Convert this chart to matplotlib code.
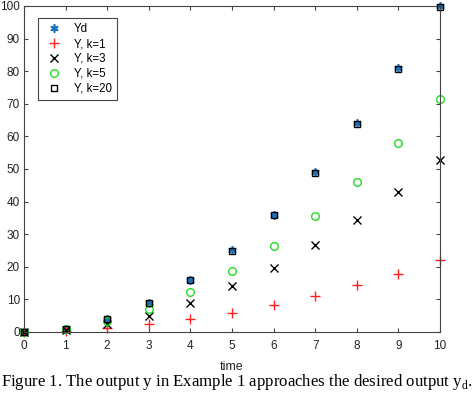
import matplotlib
matplotlib.use("Agg")
import matplotlib.pyplot as plt
import numpy as np

t = [0, 1, 2, 3, 4, 5, 6, 7, 8, 9, 10]
yd = [0, 1, 4, 9, 16, 25, 36, 49, 64, 81, 100]
y_k1 = [0, 0.3, 1.3, 2.3, 3.9, 5.8, 8.2, 11.1, 14.4, 17.8, 22.0]
y_k3 = [0, 0.6, 2.4, 5.0, 9.0, 14.0, 19.6, 26.6, 34.3, 43.0, 52.6]
y_k5 = [0, 0.9, 3.3, 7.0, 12.4, 18.7, 26.5, 35.7, 46.1, 58.1, 71.4]
y_k20 = [0, 1, 4, 9, 15.9, 24.9, 35.9, 48.8, 63.7, 80.7, 99.6]
xticks = [0, 1, 2, 3, 4, 5, 6, 7, 8, 9, 10]
yticks = [0, 10, 20, 30, 40, 50, 60, 70, 80, 90, 100]

plt.rcParams['font.family'] = ['Liberation Sans', 'DejaVu Sans']

fig = plt.figure(figsize=(4.74, 3.95), dpi=100)
ax = fig.add_axes([0.0506, 0.1595, 0.8776, 0.8255])

kw = dict(linestyle='none', clip_on=False)
ax.plot(t, yd, marker=(6, 2, 0), color='#1a72bd', markersize=6, markeredgewidth=1.2, label='Yd', **kw)
ax.plot(t, y_k1, marker='+', color='#ff2020', markersize=7, markeredgewidth=1.0, label='Y, k=1', **kw)
ax.plot(t, y_k3, marker='x', color='black', markersize=5.5, markeredgewidth=1.0, label='Y, k=3', **kw)
ax.plot(t, y_k5, marker='o', markerfacecolor='none', markeredgecolor='#22dd22', markersize=5.5, markeredgewidth=1.0, label='Y, k=5', **kw)
ax.plot(t, y_k20, marker='s', markerfacecolor='none', markeredgecolor='black', markersize=4.5, markeredgewidth=1.0, label='Y, k=20', **kw)

ax.set_xlim(0, 10)
ax.set_ylim(0, 100)
ax.set_xticks(xticks)
ax.set_yticks(yticks)
ax.tick_params(direction='in', top=True, right=True, labelsize=8.5, length=3, color='#444444', labelcolor='#222222')
ax.tick_params(axis='x', pad=6)
ax.tick_params(axis='y', pad=3)
for s in ax.spines.values():
    s.set_color('#444444')
    s.set_linewidth(0.8)

ax.set_xlabel('time', fontsize=9, color='#222222', labelpad=6)

leg = ax.legend(loc='upper left', bbox_to_anchor=(0.033, 0.963), fontsize=8.3, frameon=True, fancybox=False,
                edgecolor='#444444', framealpha=1, handletextpad=0.8, borderpad=0.45, labelspacing=0.25,
                handlelength=1.9, borderaxespad=0)
leg.get_frame().set_linewidth(0.8)

fig.text(0.5, 0.008, 'Figure 1. The output y in Example 1 approaches the desired output y$_\\mathregular{d}$.',
         ha='center', va='bottom', fontsize=12.1, family='Liberation Serif', color='black')

fig.savefig('out.png', dpi=100)
